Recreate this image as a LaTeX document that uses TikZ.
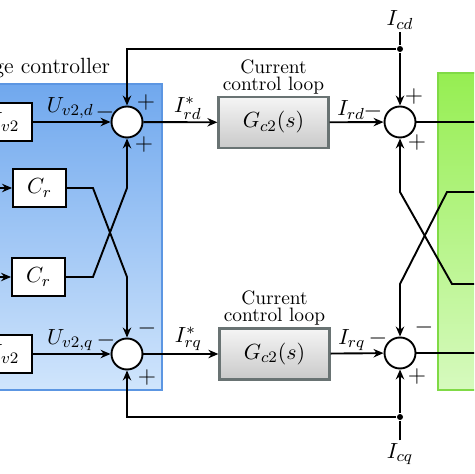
\documentclass[tikz,border=0pt]{standalone}
\usetikzlibrary{arrows.meta}
\definecolor{bluetop}{RGB}{112,168,238}
\definecolor{bluebot}{RGB}{208,229,252}
\definecolor{blueedge}{RGB}{92,150,226}
\definecolor{greentop}{RGB}{150,238,82}
\definecolor{greenbot}{RGB}{214,250,190}
\definecolor{greenedge}{RGB}{128,218,70}
\definecolor{loopedge}{RGB}{105,115,115}
\begin{document}
\begin{tikzpicture}[x=0.5pt,y=-0.5pt,line width=0.95pt,>={Stealth[length=5pt,width=4.2pt]}]
        \tikzstyle{block}=[draw=black,fill=white,minimum width=26.5pt,minimum height=19pt,inner sep=0pt,font=\fontsize{11pt}{13pt}\selectfont]
        \tikzstyle{loopbox}=[draw=loopedge,line width=1.1pt,top color=gray!8,bottom color=gray!42,minimum width=55pt,minimum height=25.5pt,inner sep=0pt,font=\fontsize{11pt}{13pt}\selectfont]
        \tikzstyle{sumnode}=[circle,draw=black,fill=white,minimum size=15.5pt,inner sep=0pt]
        \tikzstyle{dot}=[circle,fill=black,minimum size=3pt,inner sep=0pt]
        \tikzstyle{lbl}=[font=\fontsize{11pt}{13pt}\selectfont,inner sep=1pt]
        \tikzstyle{sgn}=[font=\fontsize{12pt}{14pt}\selectfont,inner sep=0pt]
        \tikzstyle{sig}=[draw,->]
        \clip (0,0) rectangle (474,474);
        % controller areas
        \draw[draw=blueedge,top color=bluetop,bottom color=bluebot] (-10,84) rectangle (162,390);
        \draw[draw=greenedge,top color=greentop,bottom color=greenbot] (438,73) rectangle (490,390);
        \node[anchor=base east,inner sep=0pt,font=\fontsize{11pt}{13pt}\selectfont] (ttv) at (111,74) {Voltage controller};
        \node[align=center,anchor=south,inner sep=0pt,font=\fontsize{9.7pt}{8.2pt}\selectfont] (ttd) at (273.5,95) {Current\\control loop};
        \node[align=center,anchor=south,inner sep=0pt,font=\fontsize{9.7pt}{8.2pt}\selectfont] (ttq) at (274.5,326) {Current\\control loop};
        % blocks
        \node[block,minimum width=31pt] (kvd) at (1,122) {$K_{v2}$};
        \node[block] (crt) at (39.5,188) {$C_r$};
        \node[block] (crb) at (38.5,277) {$C_r$};
        \node[block,minimum width=31pt] (kvq) at (1,354) {$K_{v2}$};
        \node[sumnode] (sld) at (127,122) {};
        \node[sumnode] (slq) at (127,354) {};
        \node[loopbox] (gd) at (273.5,122.5) {$G_{c2}(s)$};
        \node[loopbox] (gq) at (274.5,354) {$G_{c2}(s)$};
        \node[sumnode] (srd) at (400,122) {};
        \node[sumnode] (srq) at (400,353) {};
        \node[dot] (dcd) at (400,49) {};
        \node[dot] (dcq) at (400,417) {};
        \node[lbl] (icd) at (400,20) {$I_{cd}$};
        \node[lbl] (icq) at (400,454) {$I_{cq}$};
        \coordinate (inct) at (-10,188);
        \coordinate (incb) at (-10,277);
        \coordinate (outd) at (490,122);
        \coordinate (outq) at (490,353);
        \coordinate (ga) at (490,284);
        \coordinate (gb) at (490,192);
        % signs
        \node[sgn] (pld1) at (105,113) {$-$};
        \node[sgn] (pld2) at (146,103) {$+$};
        \node[sgn] (pld3) at (144,145) {$+$};
        \node[sgn] (plq1) at (106,340) {$-$};
        \node[sgn] (plq2) at (147,328) {$-$};
        \node[sgn] (plq3) at (147,377) {$+$};
        \node[sgn] (prd1) at (373,112) {$-$};
        \node[sgn] (prd2) at (414,97) {$+$};
        \node[sgn] (prd3) at (417,143) {$+$};
        \node[sgn] (prq1) at (378,338) {$-$};
        \node[sgn] (prq2) at (424,327) {$-$};
        \node[sgn] (prq3) at (417,376) {$+$};
        % signals
        \draw[sig] (inct) -- (crt);
        \draw[sig] (incb) -- (crb);
        \draw[sig] (kvd) -- node[lbl,above,pos=0.48] {$U_{v2,d}$} (sld);
        \draw[sig] (kvq) -- node[lbl,above,pos=0.48] {$U_{v2,q}$} (slq);
        \draw[sig] (crt.east) -- ++(26,0) -- (slq |- crb.east) -- (slq);
        \draw[sig] (crb.east) -- ++(27,0) -- (sld |- crt.east) -- (sld);
        \draw[sig] (sld) -- node[lbl,above,pos=0.6] {$I^*_{rd}$} (gd);
        \draw[sig] (slq) -- node[lbl,above,pos=0.6] {$I^*_{rq}$} (gq);
        \draw[sig] (gd) -- node[lbl,above,pos=0.4] {$I_{rd}$} (srd);
        \draw[sig] (gq) -- node[lbl,above,pos=0.4] {$I_{rq}$} (srq);
        \draw (icd) -- (dcd);
        \draw[sig] (dcd) -- (srd);
        \draw[sig] (dcd) -| (sld);
        \draw (icq) -- (dcq);
        \draw[sig] (dcq) -- (srq);
        \draw[sig] (dcq) -| (slq);
        \draw (srd) -- (outd);
        \draw (srq) -- (outq);
        \draw[sig] (ga) -- ++(-38,0) -- (srd |- gb) -- (srd);
        \draw[sig] (gb) -- ++(-43,0) -- (srq |- ga) -- (srq);
\end{tikzpicture}
\end{document}
